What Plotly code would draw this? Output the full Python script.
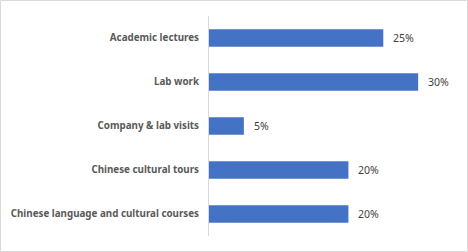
import plotly.graph_objects as go

categories = ["Academic lectures", "Lab work", "Company & lab visits",
              "Chinese cultural tours", "Chinese language and cultural courses"]
values = [25, 30, 5, 20, 20]
labels = ["25%", "30%", "5%", "20%", "20%"]

W, H = 468, 252
L, R, T, B = 209, 15, 16, 16
pw = W - L - R
ph = H - T - B

fig = go.Figure(go.Bar(
    y=categories, x=values, orientation="h",
    marker=dict(color="#4472C4", line=dict(width=0)),
    hoverinfo="skip",
))

for c, v, t in zip(categories, values, labels):
    fig.add_annotation(x=v, y=c, text=t, showarrow=False, xanchor="left",
                       xshift=8, font=dict(family="Noto Sans", size=10.5, color="#404040"))

fig.add_shape(type="rect", xref="paper", yref="paper",
              x0=(0.5 - L) / pw, x1=(W - 0.5 - L) / pw,
              y0=-(B - 0.5) / ph, y1=1 + (T - 0.5) / ph,
              line=dict(color="#D9D9D9", width=1), layer="below")

fig.update_layout(
    width=W, height=H,
    margin=dict(l=L, r=R, t=T, b=B, pad=0, autoexpand=False),
    paper_bgcolor="white", plot_bgcolor="white",
    bargap=0.6,
    showlegend=False,
    xaxis=dict(range=[0, 35], showgrid=False, zeroline=False, showticklabels=False,
               showline=False, fixedrange=True, automargin=False),
    yaxis=dict(categoryorder="array", categoryarray=categories[::-1],
               autorange=False, range=[-0.5, 4.5], automargin=False,
               showgrid=False, zeroline=False, showline=True, linecolor="#D9D9D9",
               linewidth=1, ticks="", ticklabelstandoff=7,
               tickfont=dict(family="Noto Sans", size=9.8, color="#595959", weight="bold")),
)

fig.write_html("out.html")
